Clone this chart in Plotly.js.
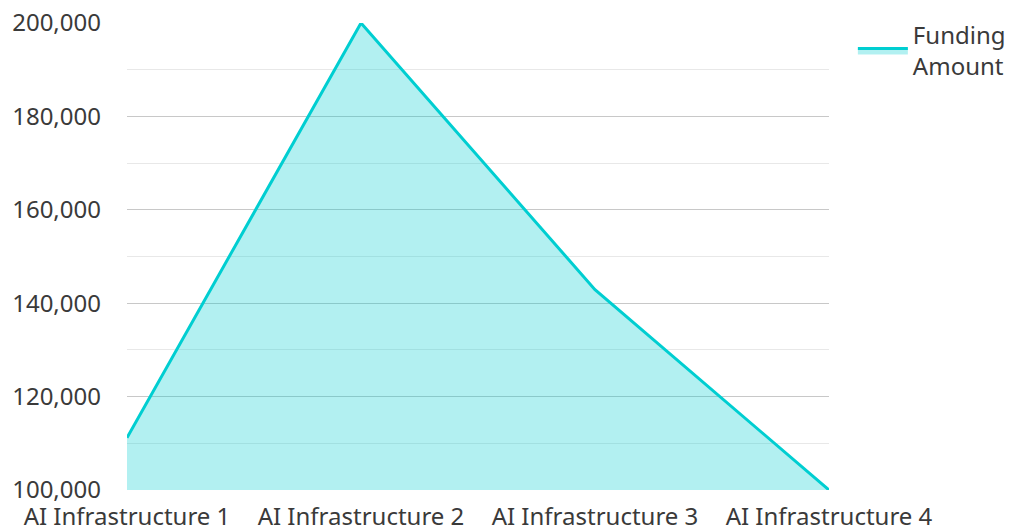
<!DOCTYPE html>
<html>
<head>
<meta charset="utf-8">
<script src="https://cdn.plot.ly/plotly-3.0.1.min.js"></script>
<style>html,body{margin:0;padding:0;background:#fff;}#chart{width:1010px;height:531px;}</style>
</head>
<body>
<div id="chart"></div>
<script>
const categories = ["AI Infrastructure 1", "AI Infrastructure 2", "AI Infrastructure 3", "AI Infrastructure 4"];
const fundingAmount = [111200, 200000, 142900, 100000];
const seriesName = "Funding<br>Amount";

const trace = {
  x: categories,
  y: fundingAmount,
  type: "scatter",
  mode: "lines",
  name: seriesName,
  line: {color: "#00CED1", width: 3},
  fill: "tozeroy",
  fillcolor: "rgba(0,206,209,0.3)",
  hoverinfo: "x+y"
};

const layout = {
  width: 1010,
  height: 531,
  margin: {l: 127, r: 181, t: 23, b: 41, autoexpand: false},
  paper_bgcolor: "#fff",
  plot_bgcolor: "#fff",
  font: {family: "Noto Sans, Open Sans, sans-serif", size: 24, color: "#3a3a3a"},
  showlegend: true,
  legend: {x: 1.034, y: 1.022, xanchor: "left", yanchor: "top", itemwidth: 50,
           font: {size: 24, color: "#3a3a3a"}, bgcolor: "rgba(0,0,0,0)"},
  xaxis: {
    type: "category",
    range: [0, 3],
    showgrid: false,
    zeroline: false,
    showline: false,
    ticks: "",
    ticklabelstandoff: 10,
    tickfont: {size: 24, color: "#3a3a3a"}
  },
  yaxis: {
    range: [100000, 200000],
    dtick: 20000,
    tick0: 100000,
    tickformat: ",d",
    showgrid: true,
    gridcolor: "#c8c8c8",
    gridwidth: 1,
    minor: {dtick: 10000, tick0: 100000, showgrid: true, gridcolor: "#e8e8e8", gridwidth: 1},
    zeroline: false,
    showline: false,
    ticks: "",
    ticklabelstandoff: 25,
    tickfont: {size: 24, color: "#3a3a3a"}
  }
};

Plotly.newPlot("chart", [trace], layout, {displayModeBar: false, staticPlot: true});
</script>
</body>
</html>
